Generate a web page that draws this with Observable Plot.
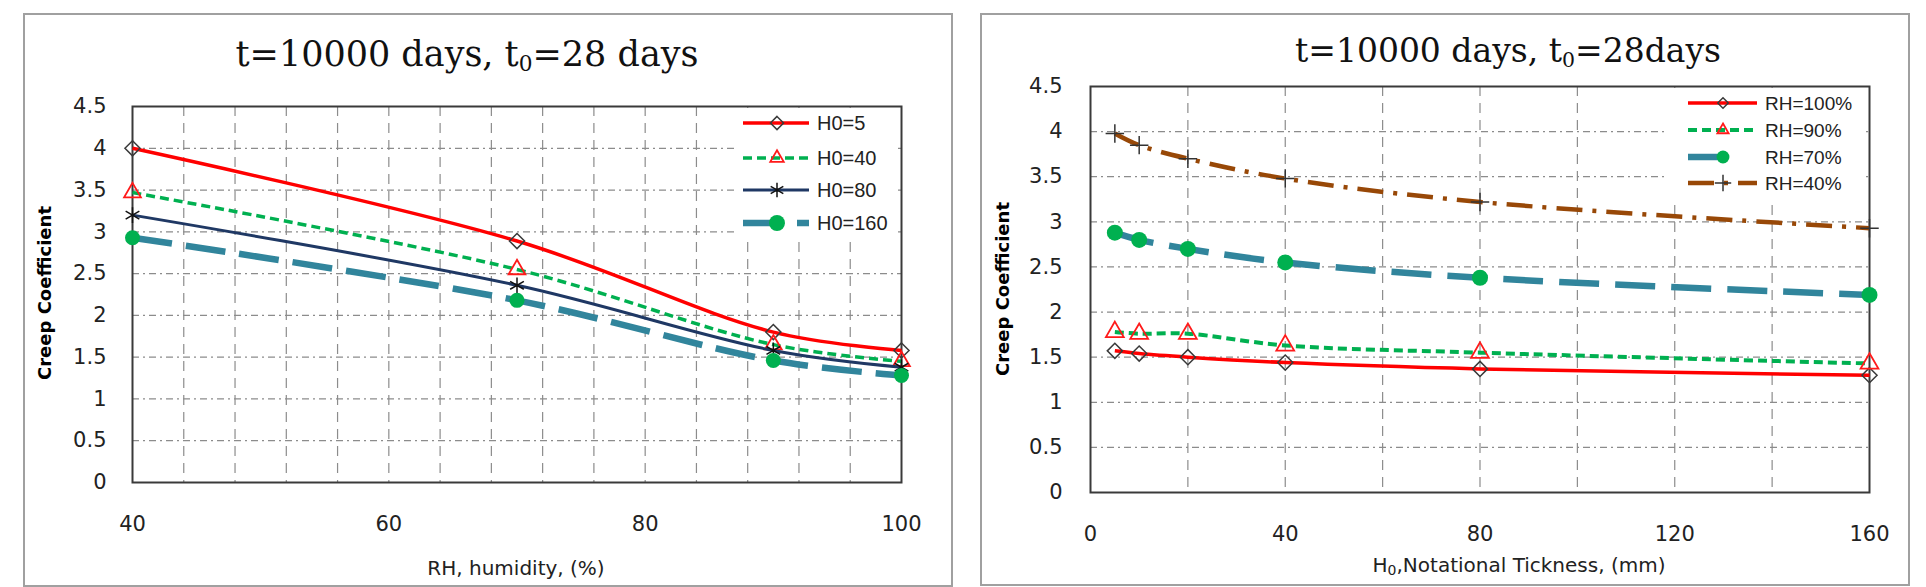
<!DOCTYPE html>
<html><head><meta charset="utf-8">
<script src="https://cdn.jsdelivr.net/npm/d3@7"></script>
<script src="https://cdn.jsdelivr.net/npm/@observablehq/plot@0.6"></script>
<style>
html,body{margin:0;padding:0;background:#fff;width:1926px;height:587px;overflow:hidden;position:relative;}
.panel{position:absolute;border:2px solid #a0a0a0;box-sizing:border-box;background:#fff;}
.abs{position:absolute;white-space:nowrap;line-height:1;}
.title{font-family:"DejaVu Serif",serif;color:#111;transform:translate(-50%,-50%);}
.title sub{font-size:0.62em;vertical-align:-0.25em;line-height:0;}
.xlabel{font-family:"DejaVu Sans",sans-serif;font-size:20px;color:#222;transform:translate(-50%,-50%);}
.xlabel sub{font-size:0.7em;vertical-align:-0.2em;line-height:0;}
.ylabel{font-family:"DejaVu Sans",sans-serif;font-weight:bold;font-size:18px;color:#000;transform:translate(-50%,-50%) rotate(-90deg);}
.legbox{position:absolute;background:#fff;}
.leglab{position:absolute;white-space:nowrap;line-height:1;font-family:"Liberation Sans",sans-serif;color:#222;transform:translate(0,-50%);}
svg.plotsvg{position:absolute;background:transparent;overflow:visible;}
</style></head><body>
<script>
// ---------------- data ----------------
// left chart: creep coefficient vs relative humidity
const rhHumidity = [40, 70, 90, 100];
const leftSeries = ["H0=5", "H0=40", "H0=80", "H0=160"];
const creepH05   = [4.00, 2.89, 1.80, 1.58];
const creepH040  = [3.47, 2.55, 1.65, 1.45];
const creepH080  = [3.20, 2.36, 1.58, 1.38];
const creepH0160 = [2.93, 2.18, 1.46, 1.28];

// right chart: creep coefficient vs notational thickness
const h0Thickness = [5, 10, 20, 40, 80, 160];
const rightSeries = ["RH=100%", "RH=90%", "RH=70%", "RH=40%"];
const creepRH100 = [1.57, 1.54, 1.50, 1.44, 1.37, 1.30];
const creepRH90  = [1.78, 1.76, 1.76, 1.63, 1.55, 1.43];
const creepRH70  = [2.88, 2.80, 2.70, 2.55, 2.38, 2.19];
const creepRH40  = [3.98, 3.85, 3.70, 3.48, 3.22, 2.93];

// ticks / grids
const yTicks = [0, 0.5, 1, 1.5, 2, 2.5, 3, 3.5, 4, 4.5];
const yGrid = [0.5, 1, 1.5, 2, 2.5, 3, 3.5, 4];
const leftXTicks = [40, 60, 80, 100];
const leftXGrid = [44, 48, 52, 56, 60, 64, 68, 72, 76, 80, 84, 88, 92, 96];
const rightXTicks = [0, 40, 80, 120, 160];
const rightXGrid = [20, 40, 60, 80, 100, 120, 140];

// texts
const leftTitle = "t=10000 days, t<sub>0</sub>=28 days";
const rightTitle = "t=10000 days, t<sub>0</sub>=28days";
const leftXLabel = "RH, humidity, (%)";
const rightXLabel = "H<sub>0</sub>,Notational Tickness, (mm)";
const yLabel = "Creep Coefficient";

// ---------------- styles ----------------
const leftStyles = [
  {color:"#ff0000", width:3.5, symbol:"diamond2", mStroke:"#3a3a3a", mFill:"none", r:6.8, mWidth:1.5},
  {color:"#00b050", width:3.5, dash:"9,5", symbol:"triangle2", mStroke:"#ff1a1a", mFill:"none", r:8, mWidth:1.8},
  {color:"#1f3864", width:3, symbol:"asterisk", mStroke:"#111", mFill:"none", r:7.5, mWidth:1.5},
  {color:"#31859c", width:6.5, dash:"40,14", symbol:"circle", mStroke:"none", mFill:"#00b050", r:7.5, mWidth:0}
];
const rightStyles = [
  {color:"#ff0000", width:3.5, symbol:"diamond2", mStroke:"#3a3a3a", mFill:"none", r:6.8, mWidth:1.5},
  {color:"#00b050", width:4, dash:"9,5", symbol:"triangle2", mStroke:"#ff1a1a", mFill:"none", r:8.5, mWidth:1.8},
  {color:"#31859c", width:6.5, dash:"40,16", symbol:"circle", mStroke:"none", mFill:"#00b050", r:8, mWidth:0},
  {color:"#984807", width:4.5, dash:"26,10,4,10", symbol:"plus", mStroke:"#333", mFill:"none", r:6, mWidth:1.5}
];

// ---------------- helpers ----------------
function el(tag, cls, html, css) {
  const d = document.createElement(tag);
  if (cls) d.className = cls;
  if (html != null) d.innerHTML = html;
  Object.assign(d.style, css || {});
  document.body.appendChild(d);
  return d;
}
function px(v){return v + "px";}

function makeChart(cfg) {
  const rows = cfg.names.flatMap((name, i) => cfg.xValues.map((x, j) => ({x, y: cfg.values[i][j], series: name})));
  const marks = [
    Plot.gridX(cfg.xGrid, {stroke:"#8c8c8c", strokeOpacity:1, strokeWidth:1.2, strokeDasharray:"10,7"}),
    Plot.gridY(yGrid, {stroke:"#8c8c8c", strokeOpacity:1, strokeWidth:1.2, strokeDasharray:"7,4,2,4"}),
    Plot.frame({stroke:"#3a3a3a", strokeWidth:2}),
    Plot.axisX(cfg.xTicks, {tickSize:0, tickPadding:cfg.padX, label:null, tickFormat:d => String(d), fontSize:21, fontFamily:"DejaVu Sans"}),
    Plot.axisY(yTicks, {tickSize:0, tickPadding:cfg.padY, label:null, tickFormat:d => String(d), fontSize:21, fontFamily:"DejaVu Sans"})
  ];
  cfg.names.forEach((name, i) => {
    const s = cfg.styles[i];
    const d = rows.filter(r => r.series === name);
    marks.push(Plot.line(d, {x:"x", y:"y", stroke:s.color, strokeWidth:s.width, strokeDasharray:s.dash, curve:"catmull-rom", strokeLinecap:"butt"}));
    marks.push(Plot.dot(d, {x:"x", y:"y", symbol:s.symbol, r:s.r, stroke:s.mStroke, fill:s.mFill, strokeWidth:s.mWidth}));
  });
  const svg = Plot.plot({
    width: cfg.w, height: cfg.h,
    marginLeft: cfg.ml, marginRight: cfg.mr, marginTop: cfg.mt, marginBottom: cfg.mb,
    x: {domain: cfg.xDomain},
    y: {domain: [0, 4.5]},
    style: {color:"#222", background:"transparent", overflow:"visible"},
    marks
  });
  svg.classList.add("plotsvg");
  svg.style.left = px(cfg.left); svg.style.top = px(cfg.top);
  svg.style.maxWidth = "none";
  document.body.appendChild(svg);
}

const symMap = {diamond2:d3.symbolDiamond2, triangle2:d3.symbolTriangle2, asterisk:d3.symbolAsterisk, circle:d3.symbolCircle, plus:d3.symbolPlus};

function makeLegend(cfg) {
  el("div", "legbox", null, {left:px(cfg.box[0]), top:px(cfg.box[1]), width:px(cfg.box[2]), height:px(cfg.box[3])});
  cfg.names.forEach((name, i) => {
    const s = cfg.styles[i];
    const y = cfg.ys[i];
    const svg = d3.create("svg").attr("width", cfg.len).attr("height", 24)
      .style("position","absolute").style("left", px(cfg.x0)).style("top", px(y - 12)).style("overflow","visible");
    svg.append("line").attr("x1",0).attr("x2",cfg.lens ? cfg.lens[i] : cfg.len).attr("y1",12).attr("y2",12)
      .attr("stroke", s.color).attr("stroke-width", s.width).attr("stroke-dasharray", s.dash || null);
    svg.append("path").attr("transform", `translate(${cfg.mx},12)`)
      .attr("d", d3.symbol(symMap[s.symbol], cfg.msize[i])())
      .attr("fill", s.mFill).attr("stroke", s.mStroke === "none" ? null : s.mStroke).attr("stroke-width", s.mWidth);
    document.body.appendChild(svg.node());
    el("div", "leglab", name, {left:px(cfg.lx), top:px(y), fontSize:px(cfg.fs)});
  });
}

// ---------------- layout ----------------
el("div", "panel", null, {left:"23px", top:"13px", width:"930px", height:"574px"});
el("div", "panel", null, {left:"980px", top:"13px", width:"930px", height:"573px"});

makeChart({
  xValues: rhHumidity, names: leftSeries, values: [creepH05, creepH040, creepH080, creepH0160],
  styles: leftStyles, xDomain: [40, 100], xTicks: leftXTicks, xGrid: leftXGrid,
  left: 24, top: 14, w: 928, h: 572, ml: 108, mr: 51, mt: 92, mb: 104, padX: 34, padY: 26
});
makeChart({
  xValues: h0Thickness, names: rightSeries, values: [creepRH100, creepRH90, creepRH70, creepRH40],
  styles: rightStyles, xDomain: [0, 160], xTicks: rightXTicks, xGrid: rightXGrid,
  left: 981, top: 14, w: 928, h: 571, ml: 109, mr: 40, mt: 72, mb: 93, padX: 34, padY: 28
});

makeLegend({names: leftSeries, styles: leftStyles, box:[737,108,161,132], x0:743, len:66, mx:34,
  ys:[123,158,190,223], lx:817, fs:20, msize:[110,130,150,200]});
makeLegend({names: rightSeries, styles: rightStyles, box:[1668,88,198,110], x0:1688, len:69, lens:[69,69,46,69], mx:35,
  ys:[103,130,157,183], lx:1765, fs:19, msize:[70,90,130,90]});

el("div", "abs title", leftTitle, {left:"467px", top:"54px", fontSize:"35px"});
el("div", "abs title", rightTitle, {left:"1508px", top:"50px", fontSize:"33px"});
el("div", "abs xlabel", leftXLabel, {left:"516px", top:"568px"});
el("div", "abs xlabel", rightXLabel, {left:"1519px", top:"565px"});
el("div", "abs ylabel", yLabel, {left:"45px", top:"293px"});
el("div", "abs ylabel", yLabel, {left:"1003px", top:"289px"});
</script>
</body></html>
